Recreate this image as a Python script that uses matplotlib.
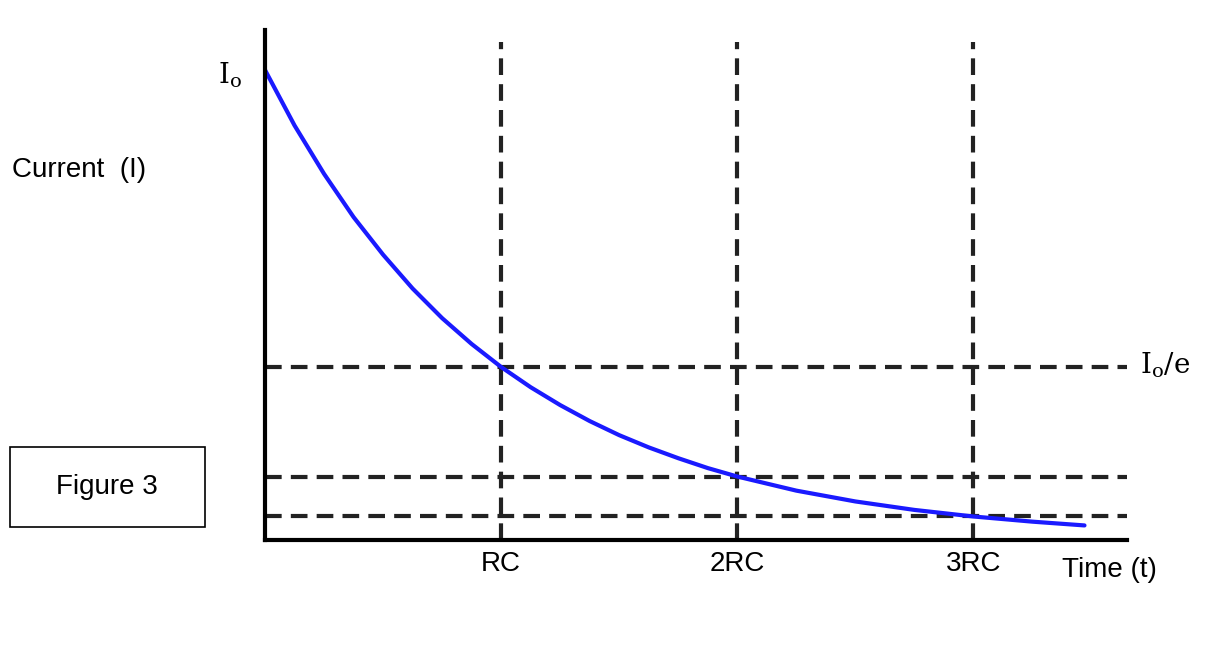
import matplotlib.pyplot as plt
from matplotlib.patches import Rectangle

# time in units of RC, current in units of Io
t_vals = [0, 0.125, 0.25, 0.375, 0.5, 0.625, 0.75, 0.875, 1.0, 1.125, 1.25, 1.375, 1.5,
          1.625, 1.75, 1.875, 2.0, 2.25, 2.5, 2.75, 3.0, 3.25, 3.47]
i_vals = [1.0, 0.882, 0.779, 0.687, 0.607, 0.535, 0.472, 0.417, 0.368, 0.325, 0.287, 0.253, 0.223,
          0.197, 0.174, 0.153, 0.135, 0.105, 0.082, 0.064, 0.05, 0.039, 0.031]
v_lines = [1, 2, 3]
h_lines = [0.368, 0.135, 0.05]
tick_labels = ['RC', '2RC', '3RC']

fig = plt.figure(figsize=(12.3, 6.65), dpi=100)
ax = fig.add_axes([265/1230, 125/665, 862/1230, 510/665])
ax.set_xlim(0, 3.65)
ax.set_ylim(0, 1.085)

for x in v_lines:
    ax.plot([x, x], [0, 1.06], color='#222222', lw=3, ls=(0, (4, 2.2)))
for y in h_lines:
    ax.plot([0, 3.65], [y, y], color='#222222', lw=3, ls=(0, (4, 2.2)))
ax.plot(t_vals, i_vals, color='#1a1aff', lw=3, solid_capstyle='round')

for s in ['top', 'right']:
    ax.spines[s].set_visible(False)
ax.spines['left'].set_linewidth(3)
ax.spines['bottom'].set_linewidth(3)
ax.set_xticks(v_lines)
ax.set_xticklabels(tick_labels, family='Liberation Sans', fontsize=20)
ax.tick_params(axis='x', length=0, pad=8)
ax.set_yticks([])

fig.text(1062/1230, 1-570/665, 'Time (t)', family='Liberation Sans', fontsize=20, va='center')
fig.text(12/1230, 1-170/665, 'Current  (I)', family='Liberation Sans', fontsize=20, va='center')
fig.text(218/1230, 1-75/665, r'I$_\mathregular{o}$', family='DejaVu Serif', fontsize=20, va='center')
fig.text(1140/1230, 1-365/665, r'I$_\mathregular{o}$/e', family='DejaVu Serif', fontsize=20, va='center')

fig.patches.append(Rectangle((10/1230, 1-527/665), 195/1230, 80/665, transform=fig.transFigure,
                             fill=False, edgecolor='black', lw=1.2))
fig.text(107/1230, 1-487/665, 'Figure 3', family='Liberation Sans', fontsize=20, ha='center', va='center')

fig.savefig('out.png', dpi=100)
